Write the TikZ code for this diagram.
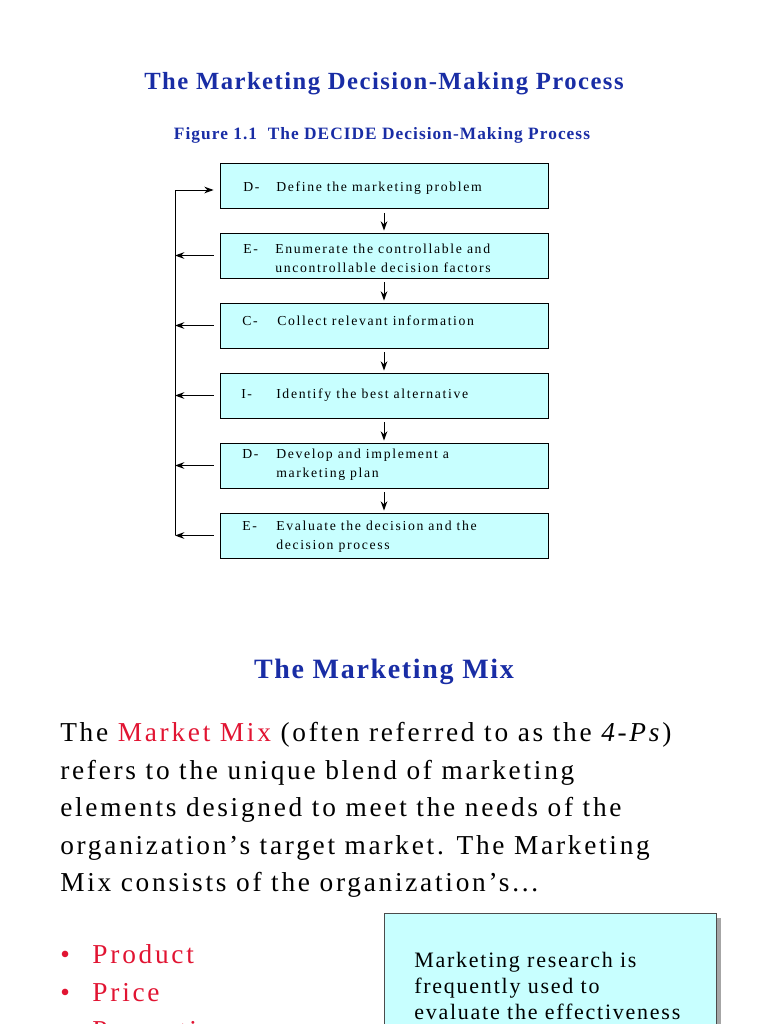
\documentclass[tikz,border=0pt]{standalone}
\usepackage{fontspec}
\setmainfont{Liberation Serif}[LetterSpace=10]
\newfontfamily\ttl{Liberation Serif}[LetterSpace=6]
\newfontfamily\labf{Liberation Serif}[LetterSpace=12]
\newfontfamily\notef{Liberation Serif}[LetterSpace=8]
\usetikzlibrary{arrows.meta}
\definecolor{ttlblue}{RGB}{25,45,165}
\definecolor{boxc}{RGB}{200,255,255}
\definecolor{mixred}{RGB}{225,20,50}
\begin{document}
\begin{tikzpicture}[x=0.75pt,y=-0.75pt,
  stepbox/.style={draw=black,line width=0.6pt,fill=boxc,minimum width=328*0.75pt,minimum height=45*0.75pt,inner sep=0},
  lab/.style={anchor=base west,inner sep=0,font=\labf\fontsize{10.3}{12}\selectfont},
  body/.style={anchor=base west,inner sep=0,font=\fontsize{20.5}{24}\selectfont},
  arr/.style={-{Stealth[length=7pt,width=5pt]},line width=0.7pt}]
\useasboundingbox (0,0) rectangle (768,1024);
\clip (0,0) rectangle (768,1024);
\node[ttlblue,font=\ttl\bfseries\fontsize{18.5}{20}\selectfont] (t1) at (384,84) {The Marketing Decision-Making Process};
\node[ttlblue,font=\ttl\bfseries\fontsize{13}{14}\selectfont] (t2) at (382,135) {Figure 1.1\ \ The DECIDE Decision-Making Process};
\foreach \n/\y in {1/186,2/255.5,3/325.5,4/395.5,5/465.5,6/535.5}{
  \node[stepbox,anchor=center] (b\n) at (384,\y) {};}
\node[lab] at (243,191) {D-}; \node[lab] at (276,191) {Define the marketing problem};
\node[lab] at (243,253) {E-}; \node[lab] at (275,253) {Enumerate the controllable and};
\node[lab] at (275,272) {uncontrollable decision factors};
\node[lab] at (242,325) {C-}; \node[lab] at (277,325) {Collect relevant information};
\node[lab] at (241,398) {I-}; \node[lab] at (276,398) {Identify the best alternative};
\node[lab] at (242,458) {D-}; \node[lab] at (276,458) {Develop and implement a};
\node[lab] at (276,477) {marketing plan};
\node[lab] at (242,530) {E-}; \node[lab] at (276,530) {Evaluate the decision and the};
\node[lab] at (276,549) {decision process};
\foreach \a/\b in {1/2,2/3,3/4,4/5,5/6}{\draw[arr] ([yshift=-4*0.75pt]b\a.south) -- ([yshift=2*0.75pt]b\b.north);}
\coordinate (top) at (175,190);
\coordinate (bot) at (175,535);
\draw[line width=0.7pt] (bot) -- (top);
\draw[arr] (top) -- ([xshift=-6*0.75pt]b1.west|-top);
\foreach \n in {2,...,6}{\draw[arr] ([xshift=-6*0.75pt]b\n.west) -- (b\n.west-|top);}
\node[ttlblue,font=\ttl\bfseries\fontsize{21}{24}\selectfont] (t3) at (384,672) {The Marketing Mix};
\node[body] at (60,741) {The \textcolor{mixred}{Market Mix} (often referred to as the \textit{4-Ps})};
\node[body] at (60,779) {refers to the unique blend of marketing};
\node[body] at (60,816) {elements designed to meet the needs of the};
\node[body] at (60,854) {organization’s target market. The Marketing};
\node[body] at (60,891) {Mix consists of the organization’s...};
\node[body,mixred] at (60,963) {\textbullet\hspace{17pt}Product};
\node[body,mixred] at (60,1001) {\textbullet\hspace{17pt}Price};
\node[body,mixred] at (60,1039) {\textbullet\hspace{17pt}Promotion};
\fill[gray!70] (389,918) rectangle (721,1030);
\node[draw=black!70,line width=0.6pt,fill=boxc,anchor=north west,minimum width=332*0.75pt,minimum height=120*0.75pt,inner sep=0] (note) at (384,913) {};
\node[body,font=\notef\fontsize{16.5}{20}\selectfont] at (414,967) {Marketing research is};
\node[body,font=\notef\fontsize{16.5}{20}\selectfont] at (414,993) {frequently used to};
\node[body,font=\notef\fontsize{16.5}{20}\selectfont] at (414,1019) {evaluate the effectiveness};
\end{tikzpicture}
\end{document}
